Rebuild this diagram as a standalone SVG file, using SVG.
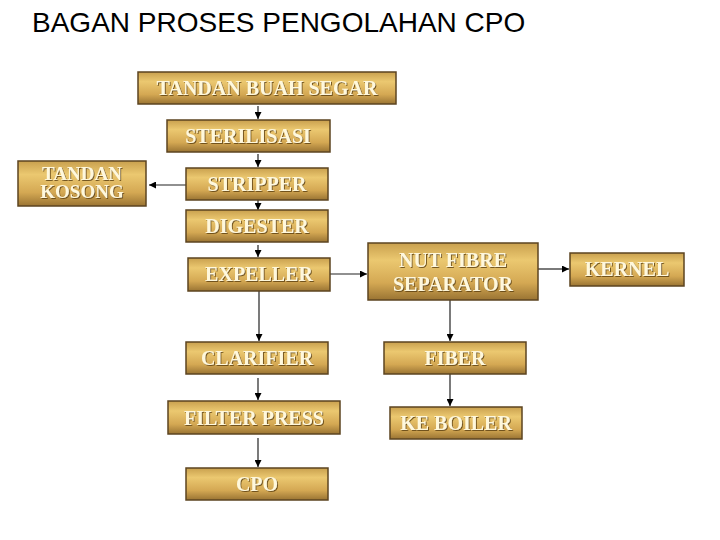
<svg xmlns="http://www.w3.org/2000/svg" width="720" height="540" viewBox="0 0 720 540">
<defs>
<linearGradient id="gold" x1="0" y1="0" x2="0" y2="1">
<stop offset="0" stop-color="#C9A04E"/>
<stop offset="0.3" stop-color="#EBC870"/>
<stop offset="0.7" stop-color="#D4A853"/>
<stop offset="1" stop-color="#9A7433"/>
</linearGradient>
<filter id="sh" x="-10%" y="-30%" width="120%" height="160%">
<feDropShadow dx="1" dy="1" stdDeviation="0.6" flood-color="#5a3e10" flood-opacity="0.8"/>
</filter>
<marker id="ah" viewBox="0 0 10 10" refX="10" refY="5" markerWidth="7" markerHeight="7" markerUnits="userSpaceOnUse" orient="auto">
<path d="M0,0 L10,5 L0,10 z" fill="#000"/>
</marker>
</defs>
<style>
.box{fill:url(#gold);stroke:#5C4420;stroke-width:1.5}
.lbl{font-family:"Liberation Serif","Times New Roman",serif;font-weight:bold;font-size:20px;fill:#FFF8DC;text-anchor:middle;filter:url(#sh)}
.sm{font-size:19px}
.con{stroke:#222;stroke-width:1.2;fill:none;marker-end:url(#ah)}
.title{font-family:"Liberation Sans",Arial,sans-serif;font-size:28px;fill:#000}
</style>
<rect width="720" height="540" fill="#fff"/>
<text class="title" x="32" y="32">BAGAN PROSES PENGOLAHAN CPO</text>
<g id="connectors">
<line class="con" x1="258" y1="106" x2="258" y2="119"/>
<line class="con" x1="258" y1="154" x2="258" y2="167"/>
<line class="con" x1="258" y1="200" x2="258" y2="210"/>
<line class="con" x1="186" y1="185" x2="149" y2="185"/>
<line class="con" x1="258" y1="245" x2="258" y2="257"/>
<line class="con" x1="330" y1="274" x2="367" y2="274"/>
<line class="con" x1="538" y1="269" x2="569" y2="269"/>
<line class="con" x1="259" y1="291" x2="259" y2="341"/>
<line class="con" x1="450" y1="300" x2="450" y2="341"/>
<line class="con" x1="450" y1="374" x2="450" y2="406"/>
<line class="con" x1="258" y1="378" x2="258" y2="400"/>
<line class="con" x1="258" y1="438" x2="258" y2="467"/>
</g>
<g id="n-tbs"><rect class="box" x="138" y="72" width="258" height="32"/><text class="lbl" x="267" y="95">TANDAN BUAH SEGAR</text></g>
<g id="n-sterilisasi"><rect class="box" x="167" y="120" width="163" height="32"/><text class="lbl" x="248" y="143">STERILISASI</text></g>
<g id="n-stripper"><rect class="box" x="186" y="168" width="142" height="32"/><text class="lbl" x="257" y="191">STRIPPER</text></g>
<g id="n-tandan-kosong"><rect class="box" x="18" y="161" width="128" height="45"/><text class="lbl sm" x="82" y="180">TANDAN</text><text class="lbl sm" x="82" y="198">KOSONG</text></g>
<g id="n-digester"><rect class="box" x="186" y="210" width="142" height="32"/><text class="lbl" x="257" y="233">DIGESTER</text></g>
<g id="n-expeller"><rect class="box" x="188" y="258" width="142" height="33"/><text class="lbl" x="259" y="281">EXPELLER</text></g>
<g id="n-nfs"><rect class="box" x="368" y="243" width="170" height="57"/><text class="lbl" x="453" y="267">NUT FIBRE</text><text class="lbl" x="453" y="291">SEPARATOR</text></g>
<g id="n-kernel"><rect class="box" x="570" y="253" width="114" height="33"/><text class="lbl" x="627" y="276">KERNEL</text></g>
<g id="n-clarifier"><rect class="box" x="186" y="342" width="142" height="32"/><text class="lbl" x="257" y="365">CLARIFIER</text></g>
<g id="n-fiber"><rect class="box" x="384" y="342" width="142" height="32"/><text class="lbl" x="455" y="365">FIBER</text></g>
<g id="n-filter-press"><rect class="box" x="168" y="401" width="172" height="33"/><text class="lbl" x="254" y="425">FILTER PRESS</text></g>
<g id="n-ke-boiler"><rect class="box" x="390" y="407" width="132" height="32"/><text class="lbl" x="456" y="430">KE BOILER</text></g>
<g id="n-cpo"><rect class="box" x="186" y="468" width="142" height="32"/><text class="lbl" x="257" y="491">CPO</text></g>
</svg>
